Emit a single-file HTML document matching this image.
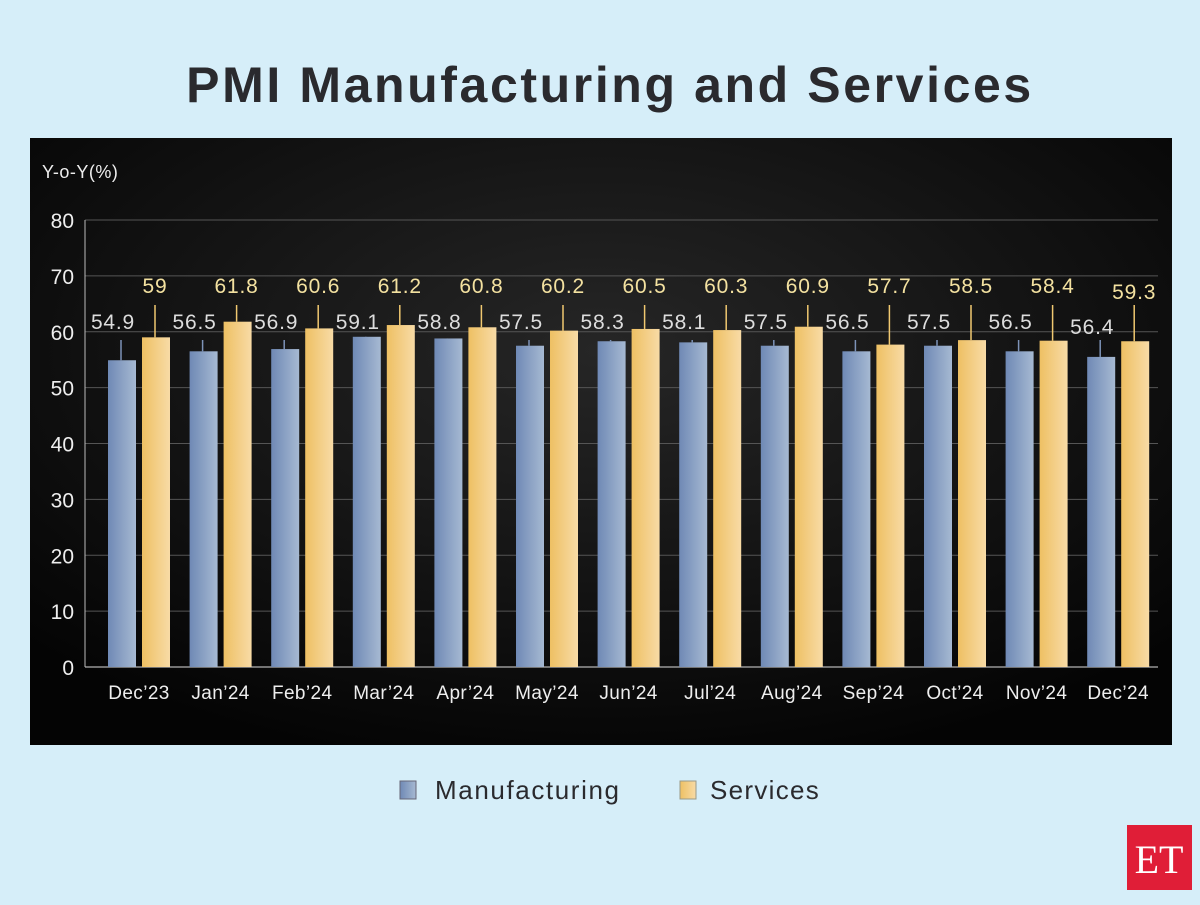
<!DOCTYPE html>
<html><head><meta charset="utf-8"><style>
body{margin:0;width:1200px;height:900px;background:#d6eef9;font-family:"Liberation Sans",sans-serif;overflow:hidden}
</style></head><body>
<svg width="1200" height="900" xmlns="http://www.w3.org/2000/svg">
<defs>
<radialGradient id="bg" cx="0.5" cy="0.35" r="0.7"><stop offset="0" stop-color="#262626"/><stop offset="1" stop-color="#040404"/></radialGradient>
<linearGradient id="gb" x1="0" x2="1"><stop offset="0" stop-color="#6f89b5"/><stop offset="1" stop-color="#a6b9d2"/></linearGradient>
<linearGradient id="gy" x1="0" x2="1"><stop offset="0" stop-color="#eec063"/><stop offset="1" stop-color="#f8dba6"/></linearGradient>
</defs>
<text x="610" y="102" text-anchor="middle" font-size="50" font-weight="bold" letter-spacing="2.6" fill="#2a2a2e">PMI Manufacturing and Services</text>
<rect x="30" y="138" width="1142" height="607" fill="url(#bg)"/>
<text x="42" y="178" font-size="18" letter-spacing="0.5" fill="#eee">Y-o-Y(%)</text>
<g id="c"></g>
<rect x="400" y="781" width="16" height="18" fill="url(#gb)" stroke="#667" stroke-width="1"/>
<text x="435" y="799" font-size="26" letter-spacing="1.6" fill="#2a2a2e">Manufacturing</text>
<rect x="680" y="781" width="16" height="18" fill="url(#gy)" stroke="#998" stroke-width="1"/>
<text x="710" y="799" font-size="26" letter-spacing="1.3" fill="#2a2a2e">Services</text>
<rect x="1127" y="825" width="65" height="65" fill="#e01e37"/>
<text x="1159" y="873" text-anchor="middle" font-family="Liberation Serif" font-size="40" fill="#fff">ET</text>
</svg>
<script>
const g=document.getElementById('c');let s='';
const y=v=>667-v*5.5875;
for(let i=0;i<=8;i++){const yy=y(i*10);s+=`<line x1="85" x2="1158" y1="${yy}" y2="${yy}" stroke="${i==0?'#ddd':'#555'}" stroke-width="1"/>`;s+=`<text x="74" y="${yy+8}" text-anchor="end" font-size="21" fill="#eee">${i*10}</text>`;}
s+=`<line x1="85" x2="85" y1="220" y2="667" stroke="#bbb"/>`;
const m=['Dec’23','Jan’24','Feb’24','Mar’24','Apr’24','May’24','Jun’24','Jul’24','Aug’24','Sep’24','Oct’24','Nov’24','Dec’24'];
const a=[54.9,56.5,56.9,59.1,58.8,57.5,58.3,58.1,57.5,56.5,57.5,56.5,56.4];
const b=[59,61.8,60.6,61.2,60.8,60.2,60.5,60.3,60.9,57.7,58.5,58.4,59.3];
const ad=[54.9,56.5,56.9,59.1,58.8,57.5,58.3,58.1,57.5,56.5,57.5,56.5,55.5];
const bd=[59,61.8,60.6,61.2,60.8,60.2,60.5,60.3,60.9,57.7,58.5,58.4,58.3];
for(let i=0;i<13;i++){const x=108+i*81.6;
s+=`<line x1="${x+13}" x2="${x+13}" y1="340" y2="${y(ad[i])}" stroke="#7d93b8" stroke-width="1.5"/>`;
s+=`<line x1="${x+47}" x2="${x+47}" y1="305" y2="${y(bd[i])}" stroke="#f0c870" stroke-width="1.5"/>`;
s+=`<rect x="${x}" y="${y(ad[i])}" width="28" height="${ad[i]*5.5875}" fill="url(#gb)"/>`;
s+=`<rect x="${x+34}" y="${y(bd[i])}" width="28" height="${bd[i]*5.5875}" fill="url(#gy)"/>`;
s+=`<text x="${x+5}" y="${i==12?334:329}" text-anchor="middle" font-size="21" letter-spacing="0.8" fill="#ddd">${a[i]}</text>`;
s+=`<text x="${x+47}" y="${i==12?299:293}" text-anchor="middle" font-size="21" letter-spacing="0.8" fill="#f3e1a0">${b[i]}</text>`;
s+=`<text x="${x+31}" y="699" text-anchor="middle" font-size="19" letter-spacing="0.4" fill="#eee">${m[i]}</text>`;}
g.innerHTML=s;
</script>
</body></html>
